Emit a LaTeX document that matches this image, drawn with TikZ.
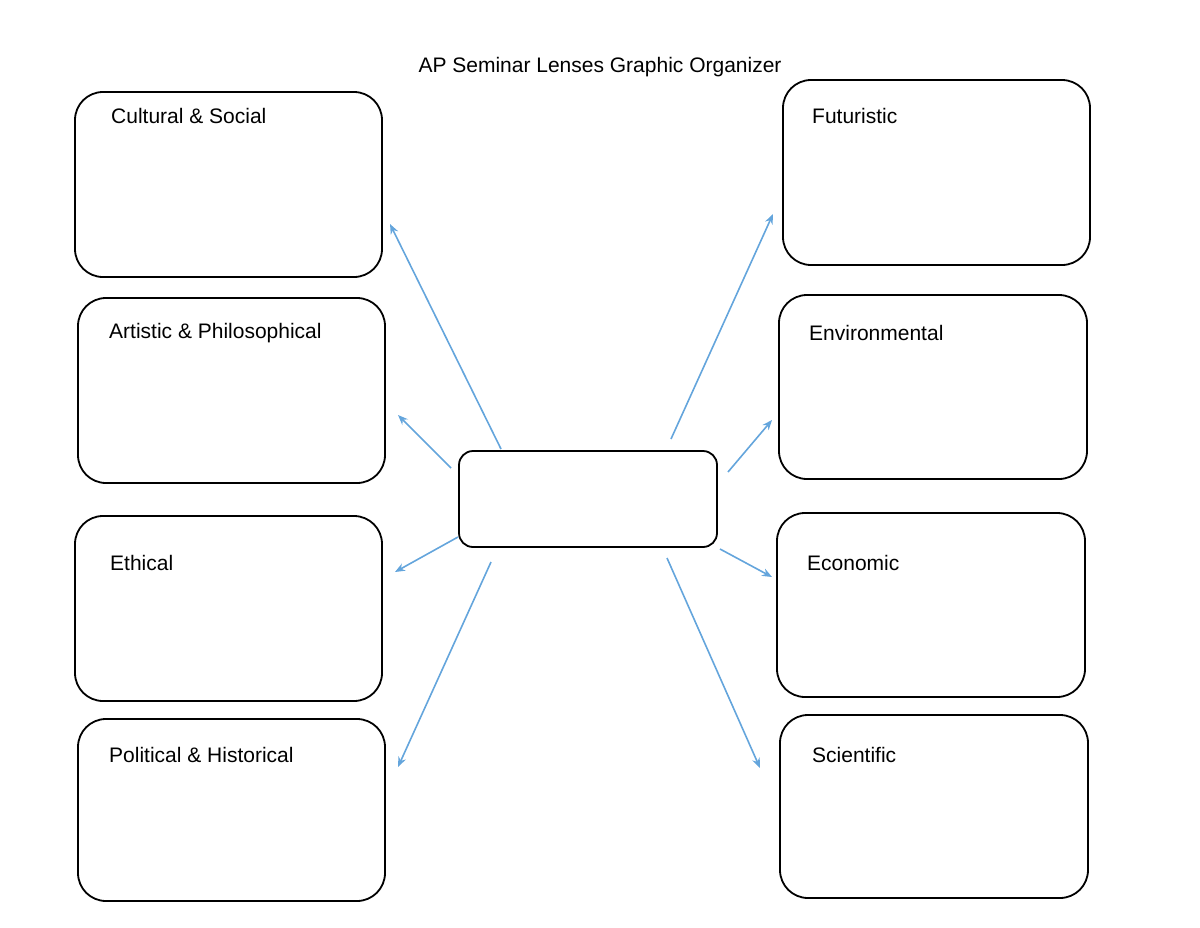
\documentclass[tikz,border=0pt]{standalone}
\usepackage{fontspec}
\setmainfont{Liberation Sans}
\usetikzlibrary{arrows.meta}
\definecolor{arr}{RGB}{100,165,220}
\begin{document}
\begin{tikzpicture}[x=1pt,y=-1pt,
  lens/.style={draw=black,line width=1.8pt,rounded corners=28pt},
  lbl/.style={anchor=west,font=\fontsize{21}{25}\selectfont,inner sep=0pt},
  conn/.style={draw=arr,line width=1.6pt,-{Stealth[length=10pt,width=8pt]}}]
\useasboundingbox (0,0) rectangle (1200,927);
\node[font=\fontsize{21}{25}\selectfont] (title) at (600,67) {AP Seminar Lenses Graphic Organizer};
\draw[lens] (75,92) rectangle (382,277); \node[lbl] (l1) at (111,116) {Cultural \& Social};
\draw[lens] (78,298) rectangle (385,483); \node[lbl] (l2) at (109,333) {Artistic \& Philosophical};
\draw[lens] (75,516) rectangle (382,701); \node[lbl] (l3) at (110,563) {Ethical};
\draw[lens] (78,719) rectangle (385,901); \node[lbl] (l4) at (109,755) {Political \& Historical};
\draw[lens] (783,80) rectangle (1090,265); \node[lbl] (r1) at (812,116) {Futuristic};
\draw[lens] (779,295) rectangle (1087,479); \node[lbl] (r2) at (809,333) {Environmental};
\draw[lens] (777,513) rectangle (1085,697); \node[lbl] (r3) at (807,563) {Economic};
\draw[lens] (780,715) rectangle (1088,898); \node[lbl] (r4) at (812,755) {Scientific};
\draw[draw=black,line width=1.8pt,rounded corners=14pt] (459,451) rectangle (717,547);
\coordinate (a1) at (501,449); \coordinate (b1) at (390,224);
\coordinate (a2) at (451,468); \coordinate (b2) at (398,415);
\coordinate (a3) at (458,537); \coordinate (b3) at (395,572);
\coordinate (a4) at (491,562); \coordinate (b4) at (398,767);
\coordinate (a5) at (671,439); \coordinate (b5) at (773,214);
\coordinate (a6) at (728,472); \coordinate (b6) at (772,420);
\coordinate (a7) at (720,549); \coordinate (b7) at (772,577);
\coordinate (a8) at (667,558); \coordinate (b8) at (760,768);
\foreach \i in {1,...,8} \draw[conn] (a\i) -- (b\i);
\end{tikzpicture}
\end{document}
